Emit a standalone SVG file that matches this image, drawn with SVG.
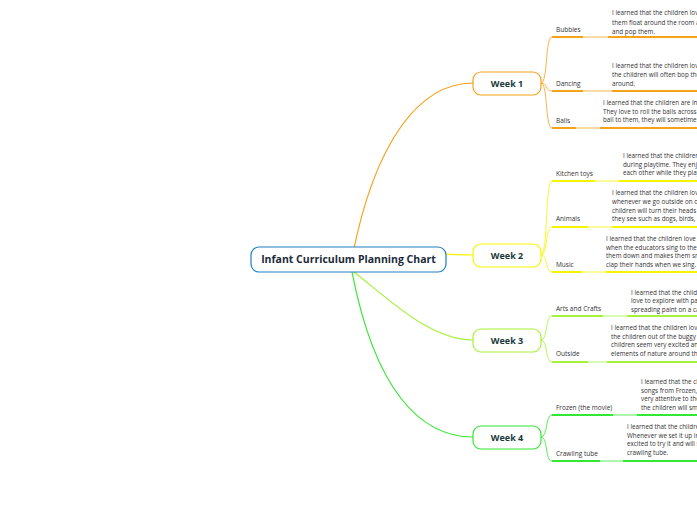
<svg xmlns="http://www.w3.org/2000/svg" width="697" height="520" viewBox="0 0 697 520">
<style>
text{font-family:"Open Sans","Noto Sans",sans-serif;fill:#333}
.l{font-size:6.5px}
.d{font-size:6.3px}
.w{font-size:9px;font-weight:bold;fill:#1a3a3a}
.c{fill:none}
.o{stroke:#f7a21b}.y{stroke:#f5f500}.g3{stroke:#a6f23a}.g4{stroke:#33e833}
.t{stroke-width:2}.th{stroke-width:0.8}
</style>
<rect width="697" height="520" fill="#fff"/>
<g id="connectors" class="c">
<path class="o" stroke-width="1.2" d="M352,258 C375,140 420,83 473,83"/>
<path class="y" stroke-width="1.2" d="M354,258 C400,250 430,255 473,255"/>
<path class="g3" stroke-width="1.2" d="M354,272 C390,300 430,340 473,340"/>
<path class="g4" stroke-width="1.2" d="M352,272 C375,390 420,437 473,437"/>
<g class="o th">
<path d="M541,83 C548,83 545,37 552,37"/><path d="M541,83 C548,83 545,91 552,91"/><path d="M541,83 C548,83 545,128 552,128"/>
<path d="M583,37 H608"/><path d="M583,91 H612"/><path d="M576,128 H600"/>
</g>
<g class="o t"><path d="M552,37 H583 M608,37 H697 M552,91 H583 M612,91 H697 M552,128 H576 M600,128 H697"/></g>
<g class="y th">
<path d="M541,255 C548,255 545,181 552,181"/><path d="M541,255 C548,255 545,227 552,227"/><path d="M541,255 C548,255 545,272 552,272"/>
<path d="M595,181 H619"/><path d="M588,227 H612"/><path d="M582,272 H606"/>
</g>
<g class="y t"><path d="M552,181 H595 M619,181 H697 M552,227 H588 M612,227 H697 M552,272 H582 M606,272 H697"/></g>
<g class="g3 th">
<path d="M541,340 C548,340 545,316 552,316"/><path d="M541,340 C548,340 545,362 552,362"/>
<path d="M603,316 H627"/><path d="M588,362 H607"/>
</g>
<g class="g3 t"><path d="M552,316 H603 M627,316 H697 M552,362 H588 M607,362 H697"/></g>
<g class="g4 th">
<path d="M541,437 C548,437 545,415 552,415"/><path d="M541,437 C548,437 545,461 552,461"/>
<path d="M613,415 H637"/><path d="M600,461 H623"/>
</g>
<g class="g4 t"><path d="M552,415 H613 M637,415 H697 M552,461 H600 M623,461 H697"/></g>
</g>
<g id="central"><rect x="251" y="247" width="195" height="25" rx="8" fill="#fff" stroke="#1f7fc4" stroke-width="1.2"/><text x="348.5" y="263" text-anchor="middle" font-size="10.5" font-weight="bold" style="fill:#1a2a3a">Infant Curriculum Planning Chart</text></g>
<g id="week1"><rect x="473" y="72" width="68" height="23" rx="8" fill="#fff" stroke="#f7a21b" stroke-width="1.2"/><text class="w" x="507" y="86.5" text-anchor="middle">Week 1</text></g>
<g id="week2"><rect x="473" y="244" width="68" height="23" rx="8" fill="#fff" stroke="#f5f500" stroke-width="1.2"/><text class="w" x="507" y="258.5" text-anchor="middle">Week 2</text></g>
<g id="week3"><rect x="473" y="329" width="68" height="23" rx="8" fill="#fff" stroke="#a6f23a" stroke-width="1.2"/><text class="w" x="507" y="343.5" text-anchor="middle">Week 3</text></g>
<g id="week4"><rect x="473" y="426" width="68" height="23" rx="8" fill="#fff" stroke="#33e833" stroke-width="1.2"/><text class="w" x="507" y="440.5" text-anchor="middle">Week 4</text></g>
<g id="bubbles"><text class="l" x="556" y="32">Bubbles</text><text class="d" x="612"><tspan x="612" y="15">I learned that the children love</tspan><tspan x="612" y="25">them float around the room an</tspan><tspan x="612" y="34">and pop them.</tspan></text></g>
<g id="dancing"><text class="l" x="556" y="86">Dancing</text><text class="d"><tspan x="612" y="68">I learned that the children love</tspan><tspan x="612" y="77">the children will often bop their</tspan><tspan x="612" y="86">around.</tspan></text></g>
<g id="balls"><text class="l" x="556" y="123">Balls</text><text class="d"><tspan x="603" y="105">I learned that the children are inte</tspan><tspan x="603" y="114">They love to roll the balls across th</tspan><tspan x="603" y="122">ball to them, they will sometimes p</tspan></text></g>
<g id="kitchen"><text class="l" x="556" y="176">Kitchen toys</text><text class="d"><tspan x="623" y="158">I learned that the children l</tspan><tspan x="623" y="167">during playtime. They enjoy</tspan><tspan x="623" y="175">each other while they play.</tspan></text></g>
<g id="animals"><text class="l" x="556" y="221">Animals</text><text class="d"><tspan x="612" y="195">I learned that the children love</tspan><tspan x="612" y="204">whenever we go outside on ou</tspan><tspan x="612" y="213">children will turn their heads a</tspan><tspan x="612" y="221">they see such as dogs, birds, d</tspan></text></g>
<g id="music"><text class="l" x="556" y="267">Music</text><text class="d"><tspan x="606" y="241">I learned that the children love lis</tspan><tspan x="606" y="250">when the educators sing to them</tspan><tspan x="606" y="258">them down and makes them smil</tspan><tspan x="606" y="267">clap their hands when we sing.</tspan></text></g>
<g id="arts"><text class="l" x="556" y="311">Arts and Crafts</text><text class="d"><tspan x="631" y="295">I learned that the childr</tspan><tspan x="631" y="303">love to explore with pai</tspan><tspan x="631" y="312">spreading paint on a ca</tspan></text></g>
<g id="outside"><text class="l" x="556" y="356">Outside</text><text class="d"><tspan x="611" y="330">I learned that the children love</tspan><tspan x="611" y="339">the children out of the buggy a</tspan><tspan x="611" y="347">children seem very excited and</tspan><tspan x="611" y="356">elements of nature around the</tspan></text></g>
<g id="frozen"><text class="l" x="556" y="410">Frozen (the movie)</text><text class="d"><tspan x="641" y="384">I learned that the ch</tspan><tspan x="641" y="393">songs from Frozen, t</tspan><tspan x="641" y="401">very attentive to the</tspan><tspan x="641" y="410">the children will smil</tspan></text></g>
<g id="crawling"><text class="l" x="556" y="456">Crawling tube</text><text class="d"><tspan x="627" y="429">I learned that the childre</tspan><tspan x="627" y="438">Whenever we set it up in</tspan><tspan x="627" y="446">excited to try it and will s</tspan><tspan x="627" y="455">crawling tube.</tspan></text></g>
</svg>
